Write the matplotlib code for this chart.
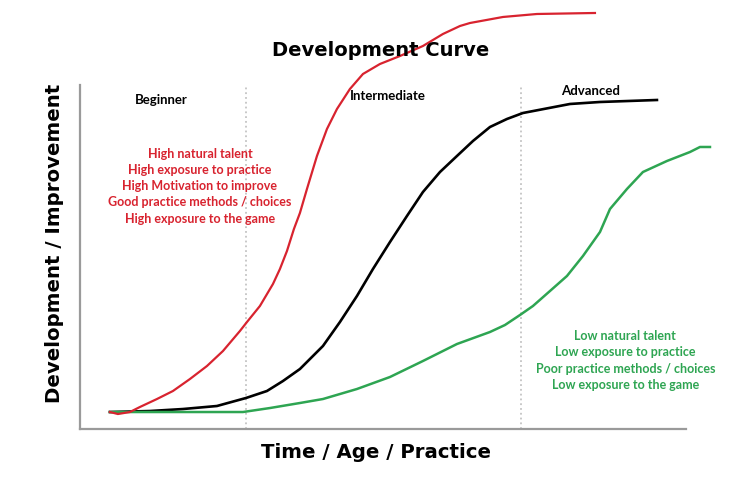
"""Development curve: three learner profiles over time / age / practice."""

import matplotlib

matplotlib.use("Agg")
import matplotlib.pyplot as plt

# values (x: time, y: development), axes span 0..10
red_x = [0.495, 0.627, 0.825, 0.990, 1.271, 1.535, 1.815, 2.096, 2.360, 2.640,
         2.756, 2.970, 3.185, 3.300, 3.416, 3.531, 3.630, 3.746, 3.911, 4.076,
         4.241, 4.455, 4.670, 4.950, 5.281, 5.660, 5.990, 6.271, 6.436, 6.980,
         7.541, 8.498]
red_y = [0.494, 0.436, 0.494, 0.640, 0.872, 1.105, 1.453, 1.831, 2.267, 2.849,
         3.110, 3.576, 4.215, 4.651, 5.174, 5.814, 6.279, 6.977, 7.936, 8.721,
         9.302, 9.884, 10.320, 10.610, 10.843, 11.134, 11.483, 11.715, 11.802,
         11.977, 12.064, 12.093]

black_x = [0.495, 1.155, 1.700, 2.261, 2.739, 3.086, 3.350, 3.630, 4.010, 4.290,
           4.571, 4.835, 5.116, 5.396, 5.660, 5.941, 6.221, 6.485, 6.766, 7.046,
           7.310, 8.086, 8.581, 9.521]
black_y = [0.494, 0.523, 0.581, 0.669, 0.901, 1.105, 1.395, 1.744, 2.413, 3.110,
           3.866, 4.651, 5.436, 6.192, 6.890, 7.471, 7.936, 8.372, 8.779, 9.012,
           9.186, 9.448, 9.506, 9.564]

green_x = [0.495, 2.690, 3.135, 3.630, 4.010, 4.571, 5.116, 5.660, 6.221, 6.766,
           7.013, 7.261, 7.475, 7.756, 8.036, 8.300, 8.581, 8.746, 9.026, 9.290,
           9.686, 10.066, 10.231, 10.396]
green_y = [0.494, 0.494, 0.610, 0.756, 0.872, 1.163, 1.512, 1.977, 2.471, 2.820,
           3.023, 3.314, 3.576, 4.012, 4.448, 5.029, 5.727, 6.395, 6.977, 7.471,
           7.791, 8.052, 8.198, 8.198]

stage_bounds = [2.74, 7.28]
stage_names = ["Beginner", "Intermediate", "Advanced"]
stage_label_x = [1.35, 5.08, 8.42]
stage_label_y = [9.59, 9.71, 9.85]

red_notes = [
    "High natural talent",
    "High exposure to practice",
    "High Motivation to improve",
    "Good practice methods / choices",
    "High exposure to the game",
]
green_notes = [
    "Low natural talent",
    "Low exposure to practice",
    "Poor practice methods / choices",
    "Low exposure to the game",
]

RED = "#d8232f"
GREEN = "#2ea552"
NOTE_FONT = "Lato"
HEAVY_FONT = "DejaVu Sans"

fig = plt.figure(figsize=(7.4, 5.02), dpi=100)
ax = fig.add_axes([0.108, 0.1434, 0.819, 0.6853])
ax.set_xlim(0, 10)
ax.set_ylim(0, 10)

for side in ("top", "right"):
    ax.spines[side].set_visible(False)
for side in ("left", "bottom"):
    ax.spines[side].set_color("#9a9a9a")
    ax.spines[side].set_linewidth(1.6)
ax.set_xticks([])
ax.set_yticks([])

for bx in stage_bounds:
    ax.plot([bx, bx], [0, 9.94], color="#c4c4c4", linestyle=":", linewidth=1.3)

ax.plot(black_x, black_y, color="black", linewidth=1.9, clip_on=False, zorder=3)
ax.plot(green_x, green_y, color=GREEN, linewidth=1.8, clip_on=False, zorder=3)
ax.plot(red_x, red_y, color=RED, linewidth=1.6, clip_on=False, zorder=4)

for name, lx, ly in zip(stage_names, stage_label_x, stage_label_y):
    ax.text(lx, ly, name, ha="center", va="center", fontsize=9.5,
            fontweight="bold", family=NOTE_FONT)

ax.text(1.98, 7.09, "\n".join(red_notes), ha="center", va="center", color=RED,
        fontsize=9.0, fontweight="bold", family=NOTE_FONT, linespacing=1.42)
ax.text(9.0, 2.02, "\n".join(green_notes), ha="center", va="center", color=GREEN,
        fontsize=9.0, fontweight="bold", family=NOTE_FONT, linespacing=1.42)

fig.text(0.515, 0.900, "Development Curve", ha="center", va="center",
         fontsize=14, fontweight="bold", family=HEAVY_FONT)
fig.text(0.508, 0.0996, "Time / Age / Practice", ha="center", va="center",
         fontsize=14.2, fontweight="bold", family=HEAVY_FONT)
fig.text(0.074, 0.515, "Development / Improvement", ha="center", va="center",
         rotation=90, fontsize=14.2, fontweight="bold", family=HEAVY_FONT)

fig.savefig("out.png", dpi=100)
